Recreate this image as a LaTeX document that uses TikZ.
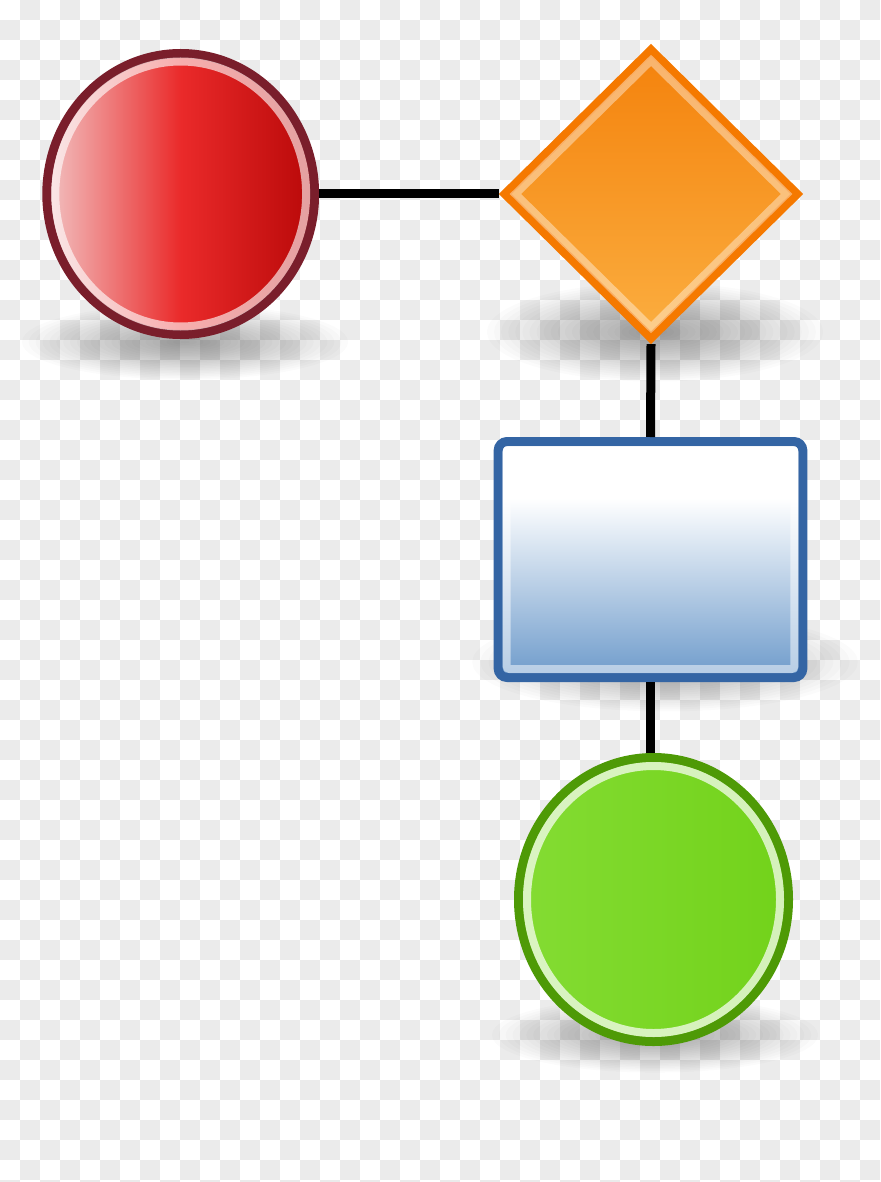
\documentclass[tikz,border=0pt]{standalone}
\usetikzlibrary{shapes.geometric}
\definecolor{chk}{HTML}{EBEBEB}
\definecolor{redB}{HTML}{7A1E2B}
\definecolor{redL}{HTML}{F2C2C2}
\definecolor{redM}{HTML}{EA2A2A}
\definecolor{redR}{HTML}{B80808}
\definecolor{orB}{HTML}{F57900}
\definecolor{orT}{HTML}{F4820C}
\definecolor{orBot}{HTML}{FBAE40}
\definecolor{bluB}{HTML}{3465A4}
\definecolor{bluF}{HTML}{6E9BCB}
\definecolor{grB}{HTML}{4E9A06}
\definecolor{grL}{HTML}{84DC33}
\definecolor{grR}{HTML}{72D21A}
\pgfdeclareverticalshading{bluesh}{100bp}{color(0bp)=(bluF); color(25bp)=(bluF); color(63bp)=(white); color(100bp)=(white)}
\newcommand\mkshadow[4]{%
  \foreach \k in {1,...,24}{%
    \fill[black,opacity=0.016] (#1,#2) ellipse [x radius={#3*(1.03-\k/24)}, y radius={#4*(1.03-\k/24)}];}}
\tikzset{
  conn/.style={line width=9pt, black},
  shapebase/.style={line width=9pt, inner sep=0pt, outer sep=4.5pt},
  redball/.style={shapebase, ellipse, draw=redB, minimum width=267.8pt, minimum height=281pt,
    left color=redL, right color=redR, middle color=redM},
  decision/.style={shapebase, diamond, draw=orB, minimum width=295.2pt, minimum height=291.2pt,
    top color=orT, bottom color=orBot, line join=miter},
  process/.style={shapebase, rectangle, rounded corners=9pt, draw=bluB, minimum width=304.7pt,
    minimum height=236pt, shading=bluesh},
  greenball/.style={shapebase, ellipse, draw=grB, minimum width=270pt, minimum height=284pt,
    left color=grL, right color=grR},
  ring/.style={line width=8pt, draw=white, draw opacity=#1},
}
\begin{document}
\begin{tikzpicture}[x=1pt,y=-1pt]
\useasboundingbox (0,0) rectangle (880,1182);
\begin{scope}
\clip (0,0) rectangle (880,1182);
\fill[white] (0,0) rectangle (880,1182);
\foreach \j in {0,...,59}{%
  \pgfmathtruncatemacro\st{mod(\j+1,2)}%
  \pgfmathtruncatemacro\sn{\st+2}%
  \foreach \i in {\st,\sn,...,43}{\fill[chk] (\i*20,\j*20) rectangle ++(20,20);}}
\end{scope}
% shadows
\mkshadow{185}{342}{165}{38}
\mkshadow{655}{332}{170}{50}
\mkshadow{665}{662}{195}{50}
\mkshadow{655}{1035}{165}{38}
% shapes
\node[redball] (start) at (180.7,194) {};
\draw[ring=0.62] (start.center) ellipse [x radius=125.4, y radius=132.5];
\node[decision] (dec) at (651,194) {};
\draw[ring=0.4, line join=miter] (dec.center) ++(-135.6,0) -- ++(135.6,-133.6) -- ++(135.6,133.6) -- ++(-135.6,133.6) -- cycle;
\node[process] (proc) at (650.5,559.5) {};
\draw[ring=0.5, rounded corners=3pt] (proc.center) ++(-143.85,-109.5) rectangle ++(287.7,219);
\node[greenball] (stop) at (653.5,899.5) {};
\draw[ring=0.7] (stop.center) ellipse [x radius=126.5, y radius=133.5];
% connectors
\draw[conn] (start.east) -- (dec.west);
\draw[conn] (dec.south) -- (proc.north);
\draw[conn] (proc.south) -- (proc.south |- stop.north);
\end{tikzpicture}
\end{document}
